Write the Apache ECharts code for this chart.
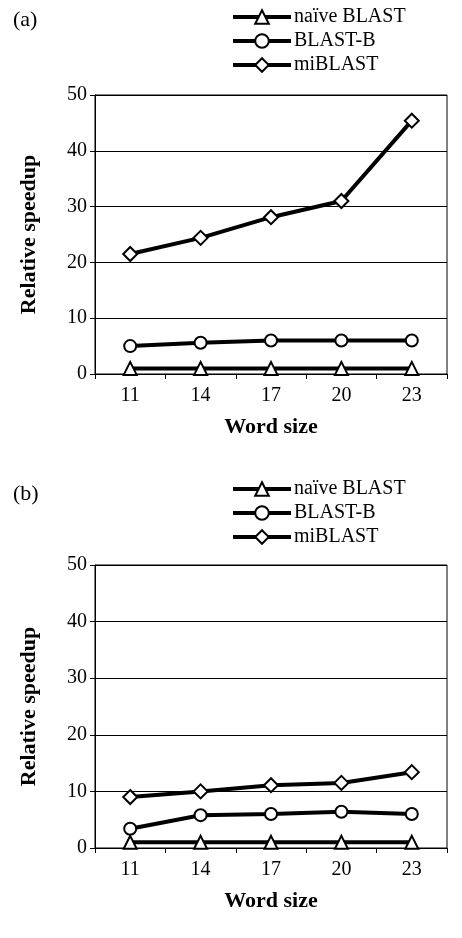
<!DOCTYPE html>
<html><head><meta charset="utf-8">
<script src="https://cdn.jsdelivr.net/npm/echarts@6/dist/echarts.min.js"></script>
<style>html,body{margin:0;padding:0;background:#fff}#c{width:462px;height:938px}</style>
</head><body><div id="c"></div>
<script>
const categories=['11','14','17','20','23'];
const naiveA=[1,1,1,1,1];
const blastbA=[5,5.6,6,6,6];
const miA=[21.5,24.4,28.1,31,45.4];
const naiveB=[1,1,1,1,1];
const blastbB=[3.4,5.8,6,6.4,6];
const miB=[9,10,11.1,11.5,13.4];
const names=['naïve BLAST','BLAST-B','miBLAST'];
const symbols=['triangle','circle','diamond'];
const sizes=[13,12,14];
const F='Liberation Serif';
const chart=echarts.init(document.getElementById('c'));
function mk(i,name,data,g){return {name:name,type:'line',xAxisIndex:g,yAxisIndex:g,data:data,symbol:symbols[i],symbolSize:sizes[i],
 lineStyle:{color:'#000',width:4},itemStyle:{color:'#fff',borderColor:'#000',borderWidth:2},z:5-i};}
const grids=[{left:95,top:95,width:352,height:279},{left:95,top:565,width:352,height:283}];
const leg=(top)=>({orient:'vertical',left:226,top:top,itemWidth:58,itemHeight:14,itemGap:7,
  lineStyle:{width:4,color:'#000'},textStyle:{fontFamily:F,fontSize:20,color:'#000',padding:[0,0,0,-2]},data:names.map(n=>({name:n}))});
chart.setOption({
 animation:false,
 title:[{text:'(a)',left:8,top:4,textStyle:{fontFamily:F,fontSize:22,fontWeight:'normal',color:'#000'}},
        {text:'(b)',left:8,top:478,textStyle:{fontFamily:F,fontSize:22,fontWeight:'normal',color:'#000'}}],
 legend:[Object.assign(leg(2),{itemGap:7,itemHeight:14}),Object.assign(leg(474),{itemGap:7,itemHeight:14})].map(l=>Object.assign(l,{itemGap:4,itemHeight:17})),
 grid:grids.map(g=>Object.assign({show:true,borderColor:'#000',borderWidth:1},g)),
 xAxis:[0,1].map(g=>({type:'category',gridIndex:g,data:categories,boundaryGap:true,name:'Word size',nameLocation:'middle',nameGap:42,
   nameTextStyle:{fontFamily:F,fontSize:22,fontWeight:'bold',color:'#000'},axisLine:{lineStyle:{color:'#000'}},axisTick:{show:true,lineStyle:{color:'#000'}},
   axisLabel:{fontFamily:F,fontSize:20,color:'#000',margin:12}})),
 yAxis:[0,1].map(g=>({type:'value',gridIndex:g,min:0,max:50,interval:10,name:'Relative speedup',nameLocation:'middle',nameGap:55,
   nameTextStyle:{fontFamily:F,fontSize:22,fontWeight:'bold',color:'#000'},axisLine:{show:true,lineStyle:{color:'#000'}},axisTick:{show:true,lineStyle:{color:'#000'}},
   splitLine:{lineStyle:{color:'#000',width:1}},axisLabel:{fontFamily:F,fontSize:20,color:'#000'}})),
 series:[mk(0,names[0],naiveA,0),mk(1,names[1],blastbA,0),mk(2,names[2],miA,0),
         mk(0,names[0],naiveB,1),mk(1,names[1],blastbB,1),mk(2,names[2],miB,1)]
});
</script></body></html>
